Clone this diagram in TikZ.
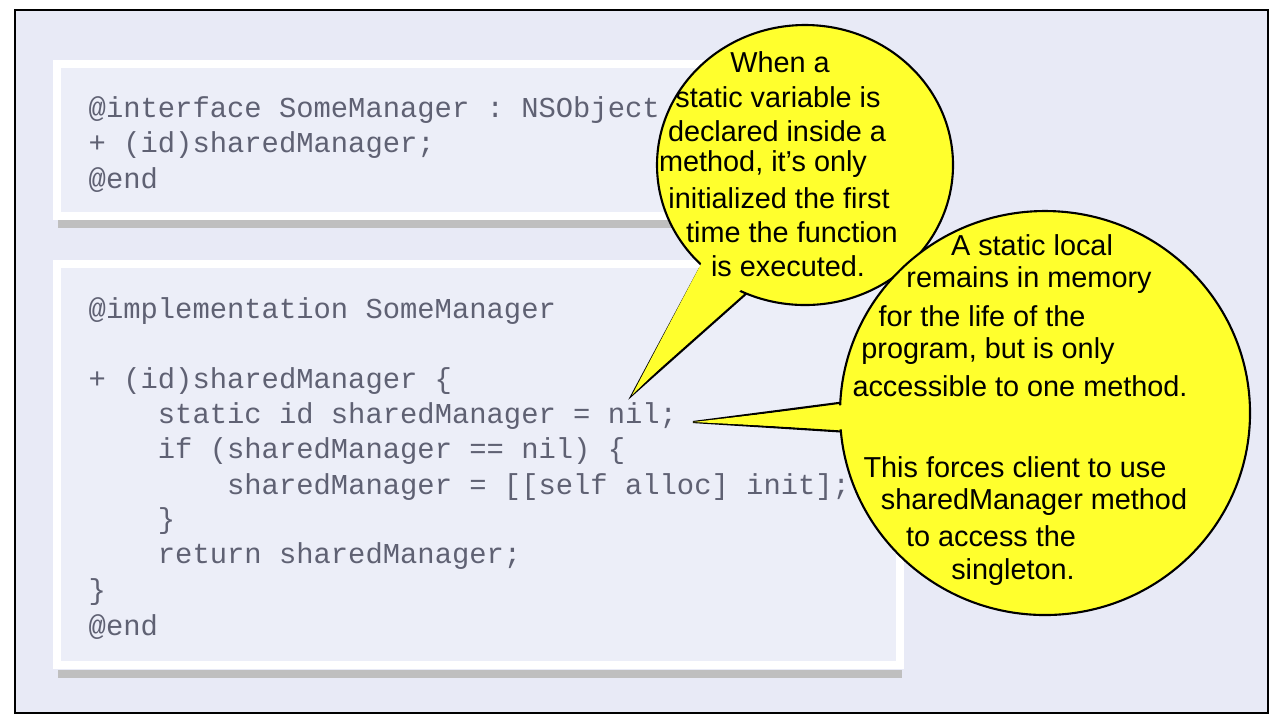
\documentclass[tikz,border=0pt]{standalone}
\usepackage{fontspec}
\setmainfont{Liberation Sans}
\setmonofont{Liberation Mono}
\definecolor{slidebg}{RGB}{232,234,246}
\definecolor{panelbg}{RGB}{236,238,248}
\definecolor{codegrey}{RGB}{95,97,115}
\definecolor{bubble}{RGB}{255,255,45}
\tikzset{
  codeline/.style={anchor=west,inner sep=0pt,text=codegrey,font=\ttfamily\fontsize{8.2}{9}\selectfont},
  talk/.style={inner sep=0pt,font=\fontsize{8.2}{9}\selectfont},
  panel/.style={draw=white,line width=2.2pt,fill=panelbg}
}
\begin{document}
\begin{tikzpicture}[x=0.01cm,y=-0.01cm]
\useasboundingbox (0,0) rectangle (1280,720);
\draw [black,fill=slidebg,line width=0.6pt] (15,10) rectangle (1268,713);
% code panels
\fill [black!25] (58,220) rectangle (745,228);
\draw [panel] (57,64) rectangle (745,216);
\fill [black!25] (58,670) rectangle (902,678);
\draw [panel] (57,264) rectangle (900,665);
\node [codeline] (i1) at (88,110) {@interface SomeManager : NSObject};
\node [codeline] (i2) at (88,145) {+ (id)sharedManager;};
\node [codeline] (i3) at (88,180) {@end};
\node [codeline] (m1) at (88,311) {@implementation SomeManager};
\node [codeline] (m2) at (88,381) {+ (id)sharedManager \{};
\node [codeline] (m3) at (88,416) {\ \ \ \ static id sharedManager = nil;};
\node [codeline] (m4) at (88,451) {\ \ \ \ if (sharedManager == nil) \{};
\node [codeline] (m5) at (88,487) {\ \ \ \ \ \ \ \ sharedManager = [[self alloc] init];};
\node [codeline] (m6) at (88,521) {\ \ \ \ \}};
\node [codeline] (m7) at (88,556) {\ \ \ \ return sharedManager;};
\node [codeline] (m8) at (88,592) {\}};
\node [codeline] (m9) at (88,627) {@end};
% first bubble
\coordinate (tipa) at (632,395);
\fill [bubble] (700,268) -- (tipa) -- (748,292) -- cycle;
\draw [black,line width=0.6pt] (700,268) -- (tipa) -- (748,292);
\filldraw [black,fill=bubble,line width=0.6pt] (805,165) ellipse (148 and 140);
\fill [bubble] (702,262) -- (tipa) -- (745,286) -- cycle;
\node [talk] (a1) at (780,62) {When a};
\node [talk] (a2) at (778,97) {static variable is};
\node [talk] (a3) at (777,131) {declared inside a};
\node [talk] (a4) at (763,164) {method, it’s only};
\node [talk] (a5) at (779,198) {initialized the first};
\node [talk] (a6) at (792,232) {time the function};
\node [talk] (a7) at (788,266) {is executed.};
% second bubble
\coordinate (tipb) at (693,422);
\fill [bubble] (846,402) -- (tipb) -- (849,432) -- cycle;
\draw [black,line width=0.6pt] (846,402) -- (tipb) -- (849,432);
\filldraw [black,fill=bubble,line width=0.6pt] (1045,413) ellipse (205 and 202);
\fill [bubble] (852,404) -- (tipb) -- (855,430) -- cycle;
\node [talk] (b1) at (1032,245) {A static local};
\node [talk] (b2) at (1029,280) {remains in memory};
\node [talk] (b3) at (982,316) {for the life of the};
\node [talk] (b4) at (988,351) {program, but is only};
\node [talk] (b5) at (1020,386) {accessible to one method.};
\node [talk] (b6) at (1015,467) {This forces client to use};
\node [talk] (b7) at (1034,502) {sharedManager method};
\node [talk] (b8) at (991,536) {to access the};
\node [talk] (b9) at (1013,572) {singleton.};
\end{tikzpicture}
\end{document}
